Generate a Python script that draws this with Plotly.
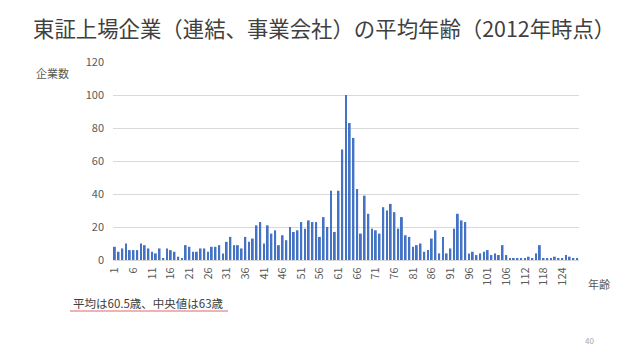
import plotly.graph_objects as go

# ---- data ----
ages = [str(a) for a in range(1, 107)] + [
    "107", "108", "109", "110", "112", "113", "114", "116", "117", "118",
    "119", "120", "121", "122", "124", "125", "126", "127", "128"]
counts = [
    8, 5, 7, 10, 6, 6, 6, 10, 9, 7,
    5, 4, 7, 1, 7, 6, 5, 2, 1, 9,
    8, 5, 5, 7, 7, 5, 8, 8, 9, 4,
    11, 14, 9, 9, 7, 14, 11, 13, 21, 23,
    10, 21, 16, 18, 9, 15, 12, 20, 17, 18,
    23, 19, 24, 23, 23, 14, 26, 20, 42, 17,
    42, 67, 100, 83, 74, 43, 16, 39, 28, 19,
    18, 16, 32, 30, 34, 29, 19, 26, 15, 14,
    8, 9, 10, 5, 6, 13, 18, 4, 14, 4,
    7, 19, 28, 24, 23, 4, 5, 3, 4, 5,
    6, 3, 4, 3, 9, 3,
    1, 1, 1, 1, 1, 2, 1, 4, 9, 1,
    1, 1, 2, 1, 1, 3, 2, 1, 1]
tick_labels = ages[::5]
y_ticks = [0, 20, 40, 60, 80, 100, 120]

title_text = "東証上場企業（連結、事業会社）の平均年齢（2012年時点）"
y_title = "企業数"
x_title = "年齢"
note_text = "平均は60.5歳、中央値は63歳"
page_no = "40"

FONT = "Noto Sans CJK JP"
OFF = 8  # page body margin
W, H = 638 - OFF, 359 - OFF
L, R, T, B = 113 - OFF, 59, 62 - OFF, 99
PW, PH = W - L - R, H - T - B


def px(x):
    return (x - OFF - L) / PW


def py(y):
    return (H - B - (y - OFF)) / PH


fig = go.Figure(go.Bar(
    x=ages, y=counts, marker=dict(color="#4472C4", line=dict(width=0)),
))

fig.update_layout(
    width=W, height=H,
    margin=dict(l=L, r=R, t=T, b=B),
    paper_bgcolor="white", plot_bgcolor="white",
    bargap=0.5, showlegend=False,
    font=dict(family=FONT, color="#595959", size=11),
    xaxis=dict(
        type="category", range=[-0.5, len(ages) - 0.5],
        tickmode="array", tickvals=tick_labels, ticktext=tick_labels,
        tickangle=-90, showgrid=False, showline=True, linecolor="#D9D9D9",
        ticks="", tickfont=dict(size=11, color="#595959"), ticklabelstandoff=2,
    ),
    yaxis=dict(
        range=[0, 120], tickvals=y_ticks, showgrid=True, gridcolor="#D9D9D9",
        zeroline=False, showline=False, ticks="",
        tickfont=dict(size=11, color="#595959"), ticklabelstandoff=8,
    ),
    annotations=[
        dict(text=title_text, x=px(31), y=py(27), xref="paper", yref="paper",
             xanchor="left", yanchor="middle", showarrow=False,
             font=dict(size=21.4, color="#404040", family=FONT)),
        dict(text=y_title, x=px(34), y=py(73), xref="paper", yref="paper",
             xanchor="left", yanchor="middle", showarrow=False,
             font=dict(size=11, color="#595959", family=FONT)),
        dict(text=x_title, x=px(586), y=py(284), xref="paper", yref="paper",
             xanchor="left", yanchor="middle", showarrow=False,
             font=dict(size=11, color="#595959", family=FONT)),
        dict(text=note_text, x=px(71), y=py(303), xref="paper", yref="paper",
             xanchor="left", yanchor="middle", showarrow=False,
             font=dict(size=11.5, color="#404040", family=FONT)),
        dict(text=page_no, x=px(583), y=py(340), xref="paper", yref="paper",
             xanchor="left", yanchor="middle", showarrow=False,
             font=dict(size=8, color="#A6A6A6", family=FONT)),
    ],
    shapes=[
        dict(type="line", xref="paper", yref="paper",
             x0=px(70), x1=px(228), y0=py(311), y1=py(311),
             line=dict(color="#E06666", width=1)),
    ],
)

fig.write_html("out.html")
